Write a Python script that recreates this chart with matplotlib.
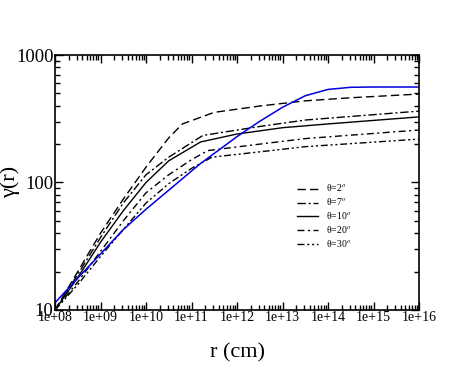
import matplotlib
matplotlib.use("Agg")
import matplotlib.pyplot as plt
import numpy as np

plt.rcParams['font.family'] = ['Liberation Serif', 'DejaVu Serif']
plt.rcParams['mathtext.fontset'] = 'stix'

# r values are given as log10(r / cm)
r_t2 = [8, 8.5, 9, 9.5, 10, 10.5, 10.8, 11.5, 12.5, 13.5, 14.5, 16]
g_t2 = [10, 20, 40, 74, 132, 224, 288, 355, 398, 437, 462, 494]

r_t7 = [8, 8.5, 9, 9.5, 10, 10.5, 11.25, 12.5, 13.5, 16]
g_t7 = [10, 19, 37, 69, 115, 158, 234, 275, 309, 363]

r_t10 = [8, 8.5, 9, 9.5, 10, 10.5, 11.2, 12, 13, 14, 16]
g_t10 = [10, 18, 34, 60, 100, 148, 208, 240, 269, 288, 327]

r_t20 = [8, 8.5, 9, 9.5, 10, 10.5, 11, 11.36, 12.5, 13.5, 16]
g_t20 = [10, 16.6, 28.8, 50, 83, 115, 151, 178, 200, 221, 258]

r_t30 = [8, 8.5, 9, 9.5, 10, 10.5, 11, 11.45, 12.5, 13.5, 16]
g_t30 = [10, 15.8, 26.3, 42.7, 69, 98, 129, 158, 174, 191, 219]

r_blue = [8, 8.5, 9, 9.5, 10, 10.5, 11, 11.2, 12, 12.5, 13, 13.5, 14, 14.5, 15, 16]
g_blue = [11.4, 17.8, 27.5, 42.7, 61.7, 87, 123, 141, 229, 302, 389, 479, 537, 558, 561, 561]

xticks = [1e8, 1e9, 1e10, 1e11, 1e12, 1e13, 1e14, 1e15, 1e16]
xticklabels = ['1e+08', '1e+09', '1e+10', '1e+11', '1e+12', '1e+13', '1e+14', '1e+15', '1e+16']
yticks = [10, 100, 1000]
yticklabels = ['10', '100', '1000']

fig = plt.figure(figsize=(4.74, 3.66), dpi=100)
ax = fig.add_axes([55/474, 1-310/366, 364/474, 255/366])

lw = 1.0
ax.plot(10**np.array(r_t2), g_t2, color='black', lw=lw, ls=(0, (6, 3)), label=r'θ=2$^{o}$')
ax.plot(10**np.array(r_t7), g_t7, color='black', lw=lw, ls=(0, (6, 2, 1.5, 2)), label=r'θ=7$^{o}$')
ax.plot(10**np.array(r_t10), g_t10, color='black', lw=lw, ls='-', label=r'θ=10$^{o}$')
ax.plot(10**np.array(r_t20), g_t20, color='black', lw=lw, ls=(0, (5, 2.5, 1.5, 2.5)), label=r'θ=20$^{o}$')
ax.plot(10**np.array(r_t30), g_t30, color='black', lw=lw, ls=(0, (5, 2, 1.5, 2, 1.5, 2)), label=r'θ=30$^{o}$')
ax.plot(10**np.array(r_blue), g_blue, color='#0000dd', lw=1.1)

ax.set_xscale('log')
ax.set_yscale('log')
ax.set_xlim(1e8, 1e16)
ax.set_ylim(10, 1000)
ax.set_xticks(xticks)
ax.set_xticklabels(xticklabels, fontsize=10)
ax.set_yticks(yticks)
ax.set_yticklabels(yticklabels, fontsize=13.5)
ax.xaxis.set_minor_locator(matplotlib.ticker.LogLocator(base=10, subs=np.arange(2, 10), numticks=50))
ax.yaxis.set_minor_locator(matplotlib.ticker.LogLocator(base=10, subs=np.arange(2, 10), numticks=50))
ax.xaxis.set_minor_formatter(matplotlib.ticker.NullFormatter())
ax.yaxis.set_minor_formatter(matplotlib.ticker.NullFormatter())
ax.tick_params(which='both', direction='in', top=True, right=True, width=1.0)
ax.tick_params(which='major', length=6)
ax.tick_params(which='minor', length=3.5)
ax.tick_params(axis='x', which='major', pad=1)
ax.tick_params(axis='y', which='major', pad=1)
for s in ax.spines.values():
    s.set_linewidth(1.2)

fig.text(238/474, 1-353/366, 'r (cm)', fontsize=16, ha='center', va='center')
fig.text(10/474, 1-182/366, 'γ(r)', fontsize=16, ha='center', va='center', rotation=90)

ax.legend(loc='upper left', bbox_to_anchor=(0.665, 0.50), frameon=False, fontsize=7,
          handlelength=2.2, handletextpad=0.8, labelspacing=0.25, borderpad=0, borderaxespad=0)

plt.savefig('out.png', dpi=100)
